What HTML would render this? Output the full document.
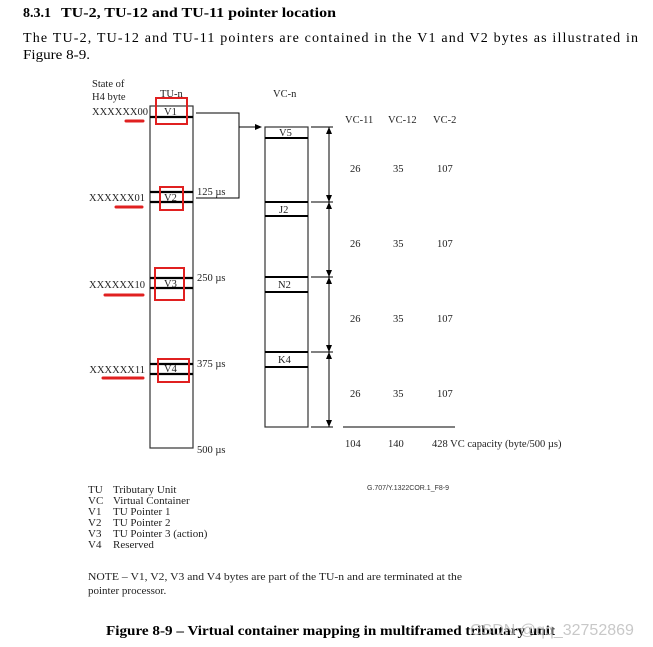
<!DOCTYPE html>
<html><head><meta charset="utf-8"><style>
html,body{margin:0;padding:0;background:#fff;width:653px;height:647px;overflow:hidden}
svg{display:block;font-family:"Liberation Serif",serif}
</style></head><body>
<svg width="653" height="647" viewBox="0 0 653 647" xmlns="http://www.w3.org/2000/svg">
<g font-size="14" font-weight="bold" fill="#000">
<text x="23" y="17">8.3.1</text>
<text x="61" y="17" textLength="275" lengthAdjust="spacingAndGlyphs">TU-2, TU-12 and TU-11 pointer location</text>
</g>
<text x="23" y="42" font-size="14" textLength="615" lengthAdjust="spacing">The TU-2, TU-12 and TU-11 pointers are contained in the V1 and V2 bytes as illustrated in</text>
<text x="23" y="59" font-size="14" textLength="67" lengthAdjust="spacingAndGlyphs">Figure 8-9.</text>

<g font-size="10.5" fill="#222">
<text x="92" y="87">State of</text>
<text x="92" y="100">H4 byte</text>
<text x="160" y="97">TU-n</text>
<text x="273" y="97">VC-n</text>
<text x="148" y="115" text-anchor="end">XXXXXX00</text>
<text x="145" y="201" text-anchor="end">XXXXXX01</text>
<text x="145" y="288" text-anchor="end">XXXXXX10</text>
<text x="145" y="373" text-anchor="end">XXXXXX11</text>
<text x="164" y="115">V1</text>
<text x="164" y="201">V2</text>
<text x="164" y="287">V3</text>
<text x="164" y="372">V4</text>
<text x="197" y="195">125 µs</text>
<text x="197" y="281">250 µs</text>
<text x="197" y="367">375 µs</text>
<text x="197" y="453">500 µs</text>
<text x="279" y="136">V5</text>
<text x="279" y="213">J2</text>
<text x="278" y="288">N2</text>
<text x="278" y="363">K4</text>
<text x="345" y="123">VC-11</text>
<text x="388" y="123">VC-12</text>
<text x="433" y="123">VC-2</text>
<g>
<text x="350" y="172">26</text><text x="393" y="172">35</text><text x="437" y="172">107</text>
<text x="350" y="247">26</text><text x="393" y="247">35</text><text x="437" y="247">107</text>
<text x="350" y="322">26</text><text x="393" y="322">35</text><text x="437" y="322">107</text>
<text x="350" y="397">26</text><text x="393" y="397">35</text><text x="437" y="397">107</text>
</g>
<text x="345" y="447">104</text><text x="388" y="447">140</text><text x="432" y="447">428 VC capacity (byte/500 µs)</text>
</g>

<g stroke="#333" fill="none">
<rect x="150" y="106" width="43" height="342" stroke-width="1.2"/>
<g stroke="#000" stroke-width="2.2">
<line x1="150" y1="117" x2="193" y2="117"/>
<line x1="150" y1="192" x2="193" y2="192"/><line x1="150" y1="202" x2="193" y2="202"/>
<line x1="150" y1="278" x2="193" y2="278"/><line x1="150" y1="288" x2="193" y2="288"/>
<line x1="150" y1="364" x2="193" y2="364"/><line x1="150" y1="374" x2="193" y2="374"/>
</g>
<polyline points="196,113 239,113 239,198 196,198" stroke="#000" stroke-width="1"/>
<line x1="239" y1="127" x2="258" y2="127" stroke="#000"/>
<rect x="265" y="127" width="43" height="300" stroke-width="1.2"/>
<g stroke="#000" stroke-width="2">
<line x1="265" y1="138" x2="308" y2="138"/>
<line x1="265" y1="202" x2="308" y2="202"/><line x1="265" y1="216" x2="308" y2="216"/>
<line x1="265" y1="277" x2="308" y2="277"/><line x1="265" y1="292" x2="308" y2="292"/>
<line x1="265" y1="352" x2="308" y2="352"/><line x1="265" y1="367" x2="308" y2="367"/>
</g>
<g stroke="#000" stroke-width="1">
<line x1="311" y1="127" x2="333" y2="127"/>
<line x1="311" y1="202" x2="333" y2="202"/>
<line x1="311" y1="277" x2="333" y2="277"/>
<line x1="311" y1="352" x2="333" y2="352"/>
<line x1="311" y1="427" x2="333" y2="427"/>
<line x1="329" y1="127" x2="329" y2="427"/>
<line x1="343" y1="427" x2="455" y2="427"/>
</g>
</g>
<polygon points="262,127 255,124 255,130" fill="#000"/>
<g fill="#000">
<polygon points="329,127 326,134 332,134"/><polygon points="329,202 326,195 332,195"/>
<polygon points="329,202 326,209 332,209"/><polygon points="329,277 326,270 332,270"/>
<polygon points="329,277 326,284 332,284"/><polygon points="329,352 326,345 332,345"/>
<polygon points="329,352 326,359 332,359"/><polygon points="329,427 326,420 332,420"/>
</g>
<g stroke="#e02020" stroke-width="2" fill="none">
<rect x="156" y="98" width="31" height="26"/>
<rect x="160" y="187" width="23" height="23"/>
<rect x="155" y="268" width="29" height="32"/>
<rect x="158" y="359" width="31" height="23"/>
</g>
<g stroke="#e02020" stroke-width="3" stroke-linecap="round">
<line x1="126" y1="121" x2="143" y2="121"/>
<line x1="116" y1="207" x2="142" y2="207"/>
<line x1="105" y1="295" x2="143" y2="295"/>
<line x1="103" y1="378" x2="143" y2="378"/>
</g>

<g font-size="11" fill="#222">
<text x="88" y="493">TU</text><text x="113" y="493">Tributary Unit</text>
<text x="88" y="504">VC</text><text x="113" y="504">Virtual Container</text>
<text x="88" y="515">V1</text><text x="113" y="515">TU Pointer 1</text>
<text x="88" y="526">V2</text><text x="113" y="526">TU Pointer 2</text>
<text x="88" y="537">V3</text><text x="113" y="537">TU Pointer 3 (action)</text>
<text x="88" y="548">V4</text><text x="113" y="548">Reserved</text>
<text x="88" y="580" textLength="374" lengthAdjust="spacingAndGlyphs">NOTE  – V1, V2, V3 and V4 bytes are part of the TU-n and are terminated at the</text>
<text x="88" y="594">pointer processor.</text>
</g>
<text x="367" y="490" font-size="7" font-family="Liberation Sans,sans-serif" fill="#333">G.707/Y.1322COR.1_F8-9</text>
<text x="106" y="635" font-size="14" font-weight="bold" textLength="449" lengthAdjust="spacingAndGlyphs">Figure 8-9 – Virtual container mapping in multiframed tributary unit</text>
<text x="470" y="635" font-size="16" font-family="Liberation Sans,sans-serif" fill="#bbb" opacity="0.8">CSDN @qq_32752869</text>
</svg>
</body></html>
